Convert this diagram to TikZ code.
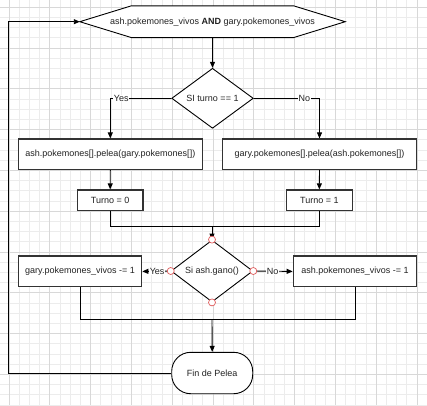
\documentclass[tikz,border=0pt]{standalone}
\usepackage{fontspec}
\setmainfont{Liberation Sans}
\usetikzlibrary{shapes.geometric,arrows.meta,calc}
\definecolor{txt}{HTML}{222222}
\definecolor{bord}{HTML}{333333}
\definecolor{gminor}{HTML}{ECECEC}
\definecolor{gmajor}{HTML}{D8D8D8}
\definecolor{port}{HTML}{E05A5A}
\tikzset{
  every node/.style={font=\fontsize{9}{11}\selectfont, text=txt},
  procbox/.style={draw=bord, line width=1.3pt, fill=white, rectangle, inner sep=0pt},
  decbox/.style={draw=black, line width=0.9pt, fill=white, diamond, inner sep=0pt},
  termbox/.style={draw=black, line width=0.9pt, fill=white, rectangle, rounded corners=19pt, inner sep=0pt},
  conn/.style={draw=black, line width=0.9pt},
  arr/.style={conn, -{Triangle[length=6pt,width=5pt]}},
  lbl/.style={fill=white, inner sep=0.5pt},
  portc/.style={draw=port, fill=white, line width=0.7pt, circle, minimum size=7pt, inner sep=0pt},
  gminorl/.style={draw=gminor, line width=0.8pt},
  gmajorl/.style={draw=gmajor, line width=0.8pt}
}
\begin{document}
\begin{tikzpicture}[x=1pt,y=-1pt]
\useasboundingbox (0,0) rectangle (427,405);
\fill[white] (0,0) rectangle (427,405);
\begin{scope}
\clip (0,0) rectangle (427,405);
\foreach \x in {-1.3,8.9,...,432} \draw[gminorl] (\x,0) -- (\x,405);
\foreach \y in {-3.1,7.1,...,410} \draw[gminorl] (0,\y) -- (427,\y);
\foreach \x in {8.9,49.7,...,432} \draw[gmajorl] (\x,0) -- (\x,405);
\foreach \y in {7.1,47.9,...,410} \draw[gmajorl] (0,\y) -- (427,\y);
\end{scope}

% nodes
\node[minimum width=265pt, minimum height=31.3pt, inner sep=0pt] (hex) at (212.5,21.7) {};
\draw[draw=black, line width=0.9pt, fill=white]
  (hex.west) -- ($(hex.north west)+(51.5,0)$) -- ($(hex.north east)+(-51.5,0)$) -- (hex.east)
  -- ($(hex.south east)+(-51.5,0)$) -- ($(hex.south west)+(51.5,0)$) -- cycle;
\node at (hex.center) {ash.pokemones\_vivos \textbf{AND} gary.pokemones\_vivos};

\node[decbox, minimum width=81.6pt, minimum height=60pt] (d1) at (212.5,98.3) {SI turno == 1};
\node[procbox, minimum width=184pt, minimum height=30.3pt] (box1) at (110.3,154.2) {ash.pokemones[].pelea(gary.pokemones[])};
\node[procbox, minimum width=194.4pt, minimum height=30.3pt] (box2) at (319.5,154.2) {gary.pokemones[].pelea(ash.pokemones[])};
\node[procbox, minimum width=65.7pt, minimum height=20.3pt] (t0) at (110.2,200.2) {Turno = 0};
\node[procbox, minimum width=66.3pt, minimum height=20.3pt] (t1) at (319.3,200.2) {Turno = 1};
\node[decbox, minimum width=81.7pt, minimum height=61pt] (d2) at (212,271) {Si ash.gano()};
\node[procbox, minimum width=123.4pt, minimum height=30.7pt] (box3) at (80,271.4) {gary.pokemones\_vivos -= 1};
\node[procbox, minimum width=123.4pt, minimum height=30.7pt] (box4) at (355,271.4) {ash.pokemones\_vivos -= 1};
\node[termbox, minimum width=81pt, minimum height=41.4pt] (fin) at (212.2,373) {Fin de Pelea};

\coordinate (m1) at (212,226);
\coordinate (m2) at (212,319.3);
\coordinate (loopx) at (8.5,0);

% connectors
\draw[arr] (hex.south) -- (d1.north);
\draw[arr] (d1.west) -- node[lbl,pos=0.82]{Yes} (d1.west -| box1.north) -- (box1.north);
\draw[arr] (d1.east) -- node[lbl,pos=0.77]{No} (d1.east -| box2.north) -- (box2.north);
\draw[arr] (box1.south) -- (t0.north);
\draw[arr] (box2.south) -- (t1.north);
\draw[conn] (t0.south) |- (m1);
\draw[conn] (t1.south) |- (m1);
\draw[arr] (m1) -- (d2.north);
\draw[arr] (d2.west) -- node[lbl,pos=0.48]{Yes} (box3.east);
\draw[arr] (d2.east) -- node[lbl,pos=0.49]{No} (box4.west);
\draw[conn] (box3.south) |- (m2);
\draw[conn] (box4.south) |- (m2);
\draw[arr] (m2) -- (fin.north);
\draw[arr] (fin.west) -- (fin.west -| loopx) |- (hex.west);

% ports
\node[portc] (pn) at (d2.north) {};
\node[portc] (pw) at (d2.west) {};
\node[portc] (pe) at (d2.east) {};
\node[portc] (ps) at (d2.south) {};
\end{tikzpicture}
\end{document}
